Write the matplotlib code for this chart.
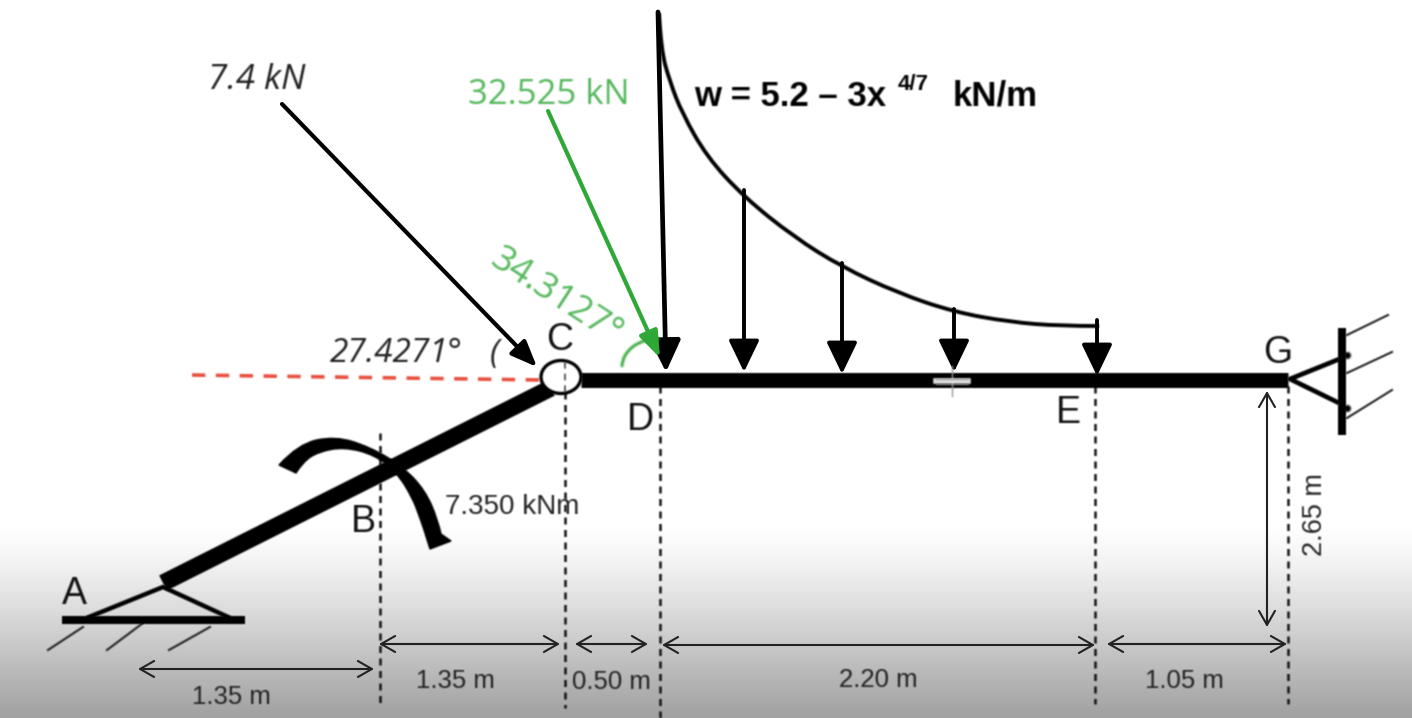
import numpy as np
import matplotlib
matplotlib.use('Agg')
import matplotlib.pyplot as plt
from matplotlib.path import Path
from matplotlib.patches import PathPatch, Ellipse, Arc, FancyArrowPatch

W, H = 1412, 718
PX = 72 / 100  # one pixel in points

# background fade at the bottom of the screenshot
bg_y = [0, 525, 560, 600, 640, 680, 718]
bg_gray = [255, 255, 243, 224, 203, 180, 160]

# beam geometry, in picture pixels
beam_ac = ([163, 551], [583, 388])
beam_cg = ([581, 1288], [380, 380])
hinge_c = (561, 377)

# distributed load w = 5.2 - 3x^(4/7)
load_curve_x = [659, 661, 670, 682, 707, 744, 794, 842, 898, 954, 1010, 1060, 1099]
load_curve_y = [13, 50, 82, 113, 157, 197, 237, 267, 293, 312, 322, 326, 326]
load_arrow_x = [658, 744, 842, 954, 1097]
load_arrow_top = [12, 190, 263, 309, 320]
load_arrow_tip = [372, 372, 374, 372, 376]

# dashed drop lines
drop_x = [380, 565, 660, 1095, 1288]
drop_top = [433, 392, 386, 386, 386]
drop_bottom = [705, 708, 718, 704, 704]

# dimensions: x0, x1, y, label
dim_x0 = [138, 379, 575, 662, 1107]
dim_x1 = [374, 560, 648, 1095, 1287]
dim_y = [669, 644, 644, 645, 644]
dim_labels = ['1.35 m', '1.35 m', '0.50 m', '2.20 m', '1.05 m']
dim_label_x = [231, 455, 611, 878, 1184]
dim_label_y = [697, 681, 682, 680, 681]

# node letters
node_names = ['A', 'B', 'C', 'D', 'E', 'G']
node_x = [74, 363, 560, 640, 1068, 1278]
node_y = [594, 522, 340, 420, 413, 353]

# moment at B, outline of the bent tapered arrow
moment_outer_x = [279, 298, 335, 370, 402, 425, 438, 441]
moment_outer_y = [465, 444, 436, 447, 466, 490, 520, 534]
moment_tip_x = [451, 430]
moment_tip_y = [541, 549]
moment_inner_x = [424, 420, 412, 397, 375, 344, 318, 303, 296]
moment_inner_y = [530, 518, 497, 473, 455, 447, 452, 462, 473]


def smooth_path(xs, ys, move=True):
    # quadratic spline through midpoints, so the curve keeps no corners
    pts = list(zip(xs, ys))
    verts = [pts[0]]
    codes = [Path.MOVETO if move else Path.LINETO]
    for i in range(1, len(pts) - 1):
        mid = ((pts[i][0] + pts[i + 1][0]) / 2, (pts[i][1] + pts[i + 1][1]) / 2)
        if i == len(pts) - 2:
            mid = pts[-1]
        verts += [pts[i], mid]
        codes += [Path.CURVE3, Path.CURVE3]
    return verts, codes


def arrow(ax, p0, p1, color='black', lw=3, hl=24, hw=10, style='-|>', z=4):
    st = f'{style},head_length={hl * PX},head_width={hw * PX}'
    ax.add_patch(FancyArrowPatch(p0, p1, arrowstyle=st, mutation_scale=1, color=color,
                                 lw=lw, shrinkA=0, shrinkB=0, zorder=z))


def soften(img, dpi):
    # the reference is a blurry screenshot, take the edge off each mark
    pad = 3
    a = np.pad(img, ((pad, pad), (pad, pad), (0, 0)))
    a[..., :3] *= a[..., 3:]
    for axis in (0, 1):
        a = 0.25 * np.roll(a, 1, axis) + 0.5 * a + 0.25 * np.roll(a, -1, axis)
    alpha = np.clip(a[..., 3:], 1e-4, 1)
    a[..., :3] = np.clip(a[..., :3] / alpha, 0, 1)
    return a, -pad, -pad


fig = plt.figure(figsize=(W / 100, H / 100), dpi=100)
ax = fig.add_axes([0, 0, 1, 1])
ax.set_xlim(0, W)
ax.set_ylim(H, 0)
ax.axis('off')

gradient = np.interp(np.arange(H), bg_y, bg_gray)[:, None]
bg = ax.imshow(gradient, cmap='gray', vmin=0, vmax=255, extent=[0, W, H, 0], aspect='auto', zorder=0)

# drop lines
for x, top, bottom in zip(drop_x, drop_top, drop_bottom):
    ax.plot([x, x], [top, bottom], color='#111111', lw=1.8, ls=(0, (2.8, 2.2)), zorder=1)

# red reference line
ax.plot([192, 542], [375, 380], color='#e8503f', lw=2.6, ls=(0, (3.7, 2.9)), zorder=2)

# beams
ax.plot(*beam_ac, color='black', lw=17 * PX, solid_capstyle='butt', zorder=3)
ax.plot(*beam_cg, color='black', lw=15 * PX, solid_capstyle='butt', zorder=3)
ax.add_patch(Ellipse(hinge_c, 40, 33, fc='white', ec='black', lw=2.4, zorder=4))
ax.plot([565, 565], [362, 392], color='#444444', lw=1.2, ls=(0, (4, 3)), zorder=5)

# support A
ax.plot([89, 163, 228], [617, 587, 617], color='black', lw=3.2, zorder=2)
ax.plot([62, 245], [620, 620], color='black', lw=8 * PX, solid_capstyle='butt', zorder=3)
for x0, y0, x1, y1 in [(83, 627, 48, 650), (143, 623, 107, 650), (210, 627, 169, 650)]:
    ax.plot([x0, x1], [y0, y1], color='#222222', lw=1.5, zorder=2)

# support G
ax.plot([1337, 1290, 1337], [360, 379, 402], color='black', lw=3.4, zorder=2)
ax.plot([1342, 1342], [328, 435], color='black', lw=8 * PX, solid_capstyle='butt', zorder=3)
ax.scatter([1347, 1347], [355, 408], s=16, color='black', zorder=3)
for x0, y0, x1, y1 in [(1347, 335, 1388, 315), (1347, 373, 1392, 352), (1347, 418, 1392, 390)]:
    ax.plot([x0, x1], [y0, y1], color='#222222', lw=1.5, zorder=2)

# distributed load
verts, codes = smooth_path(load_curve_x, load_curve_y)
ax.add_patch(PathPatch(Path(verts, codes), fc='none', ec='black', lw=2.8, zorder=4))
for i, (x, top, tip) in enumerate(zip(load_arrow_x, load_arrow_top, load_arrow_tip)):
    x_tip = 666 if i == 0 else x
    arrow(ax, (x, top), (x_tip, tip), lw=3.4 if i == 0 else 2.8, hl=27, hw=13)

# point loads
arrow(ax, (282, 104), (537, 367), lw=3, hl=22, hw=9)
arrow(ax, (548, 111), (660, 358), color='#2ea836', lw=3, hl=22, hw=8)
ax.add_patch(Arc((657, 367), 70, 56, theta1=180, theta2=275, color='#2ea836', lw=2, zorder=4))

# moment at B
v_out, c_out = smooth_path(moment_outer_x, moment_outer_y)
v_in, c_in = smooth_path(moment_inner_x, moment_inner_y, move=False)
v_tip = list(zip(moment_tip_x, moment_tip_y))
moment_path = Path(v_out + v_tip + v_in + [v_out[0]],
                   c_out + [Path.LINETO, Path.LINETO] + c_in + [Path.CLOSEPOLY])
ax.add_patch(PathPatch(moment_path, fc='black', ec='black', lw=1, zorder=4))

# small cross left on the beam
ax.plot([952, 952], [366, 396], color='#999999', lw=1, zorder=5)
ax.plot([936, 968], [381, 381], color='#dddddd', lw=4, zorder=5)
ax.plot([936, 968], [379, 379], color='#999999', lw=0.8, zorder=5)
ax.plot([936, 968], [384, 384], color='#999999', lw=0.8, zorder=5)

# dimensions
for x0, x1, y in zip(dim_x0, dim_x1, dim_y):
    arrow(ax, (x0, y), (x1, y), color='#222222', lw=1.5, hl=14, hw=8, style='<->', z=2)
arrow(ax, (1267, 391), (1267, 627), color='#222222', lw=1.5, hl=14, hw=8, style='<->', z=5)

arial = ['Liberation Sans', 'DejaVu Sans']
for label, x, y in zip(dim_labels, dim_label_x, dim_label_y):
    ax.text(x, y, label, family=arial, fontsize=18.5, color='#222222', ha='center', va='center', zorder=6)
ax.text(1315, 515, '2.65 m', family=arial, fontsize=19.5, color='#222222', rotation=90,
        ha='center', va='center', zorder=6)
ax.text(445, 507, '7.350 kNm', family=arial, fontsize=20, color='#222222', ha='left', va='center', zorder=6)

for name, x, y in zip(node_names, node_x, node_y):
    ax.text(x, y, name, family=arial, fontsize=27, color='#111111', ha='center', va='center', zorder=6)

# load formula
ax.text(694, 96, 'w = 5.2 \u2013 3x', family=arial, fontsize=25, weight='bold', color='#000000', va='center')
ax.text(898, 85, '4/7', family=arial, fontsize=16, weight='bold', color='#000000', ha='left', va='center')
ax.text(953, 96, 'kN/m', family=arial, fontsize=25, weight='bold', color='#000000', va='center')

# handwritten style labels
ax.text(208, 80, '7.4 kN', family='Open Sans', style='italic', fontsize=25, color='#222222', va='center')
ax.text(330, 354, '27.4271\u00b0', family='Open Sans', style='italic', fontsize=24, color='#222222', va='center')
ax.text(494, 354, '(', family='Open Sans', style='italic', fontsize=24, color='#222222', va='center', ha='center')
ax.text(468, 95, '32.525 kN', family='Open Sans', fontsize=25, color='#55b85c', va='center')
ax.text(556, 297, '34.3127\u00b0', family='Open Sans', fontsize=26, color='#55b85c', rotation=-33,
        rotation_mode='anchor', ha='center', va='center')

for art in ax.lines + ax.patches + ax.texts + ax.collections:
    art.set_agg_filter(soften)

fig.savefig('out.png', dpi=100)
